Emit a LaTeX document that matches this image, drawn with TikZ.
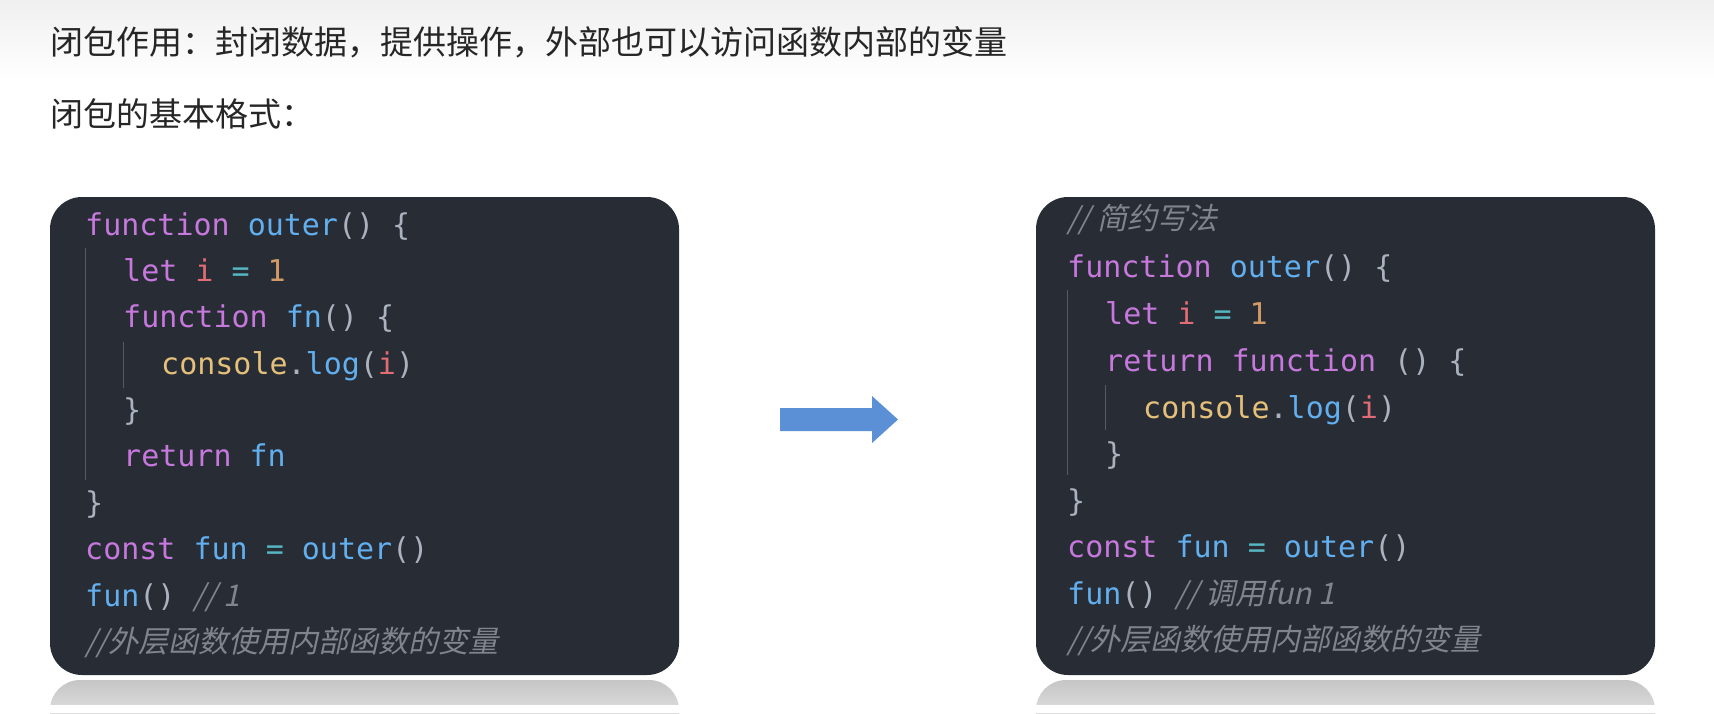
\documentclass[tikz,border=0pt]{standalone}
\usepackage{fontspec}
\setmainfont{Noto Sans CJK SC}
\newfontfamily\cjk{Noto Sans CJK SC}
\newfontfamily\cjkit{Noto Sans CJK SC}[FakeSlant=0.22]
\newfontfamily\code{DejaVu Sans Mono}
\definecolor{bgc}{HTML}{282C34}
\definecolor{kw}{HTML}{C678DD}
\definecolor{fnc}{HTML}{61AFEF}
\definecolor{var}{HTML}{E06C75}
\definecolor{num}{HTML}{D19A66}
\definecolor{obj}{HTML}{E5C07B}
\definecolor{op}{HTML}{56B6C2}
\definecolor{pl}{HTML}{ABB2BF}
\definecolor{cm}{HTML}{7F848E}
\definecolor{arr}{HTML}{5B8FD6}
\newcommand\Kw[1]{\textcolor{kw}{#1}}
\newcommand\Fn[1]{\textcolor{fnc}{#1}}
\newcommand\Va[1]{\textcolor{var}{#1}}
\newcommand\Nu[1]{\textcolor{num}{#1}}
\newcommand\Ob[1]{\textcolor{obj}{#1}}
\newcommand\Op[1]{\textcolor{op}{#1}}
\newcommand\Cm[1]{\textcolor{cm}{\cjkit #1}}
\begin{document}
\begin{tikzpicture}[x=1pt,y=-1pt,
  codeline/.style={anchor=base west,inner sep=0pt,font=\code\fontsize{30}{30}\selectfont,text=pl},
  head/.style={anchor=base west,inner sep=0pt,font=\cjk\fontsize{33}{33}\selectfont,text=black!85},
  codebox/.style={fill=bgc,rounded corners=32pt},
  guide/.style={draw=gray!55!bgc,line width=1pt}]
\useasboundingbox (0,0) rectangle (1714,713);
\shade[top color=gray!12,bottom color=white] (0,0) rectangle (1714,80);
\node[head] (t1) at (50,54) {闭包作用：封闭数据，提供操作，外部也可以访问函数内部的变量};
\node[head] (t2) at (50,126) {闭包的基本格式：};
% reflections
\shade[top color=gray!45,bottom color=white,rounded corners=30pt] (50,680) rectangle (679,760);
\shade[top color=gray!45,bottom color=white,rounded corners=30pt] (1036,680) rectangle (1655,760);
\fill[white] (0,705) rectangle (1714,713);
% boxes
\fill[codebox] (50,197) rectangle (679,675);
\fill[codebox] (1036,197) rectangle (1655,675);
% left code
\draw[guide] (85,248) -- (85,480);
\draw[guide] (123,342) -- (123,388);
\node[codeline] (l1) at (85,235) {\Kw{function} \Fn{outer}() \{};
\node[codeline] (l2) at (123,281) {\Kw{let} \Va{i} \Op{=} \Nu{1}};
\node[codeline] (l3) at (123,327) {\Kw{function} \Fn{fn}() \{};
\node[codeline] (l4) at (161,374) {\Ob{console}.\Fn{log}(\Va{i})};
\node[codeline] (l5) at (123,420) {\}};
\node[codeline] (l6) at (123,466) {\Kw{return} \Fn{fn}};
\node[codeline] (l7) at (85,513) {\}};
\node[codeline] (l8) at (85,559) {\Kw{const} \Fn{fun} \Op{=} \Fn{outer}()};
\node[codeline] (l9) at (85,606) {\Fn{fun}()  \Cm{//  1}};
\node[codeline] (l10) at (85,652) {\Cm{//外层函数使用内部函数的变量}};
% right code
\draw[guide] (1067,290) -- (1067,475);
\draw[guide] (1105,385) -- (1105,430);
\node[codeline] (r0) at (1067,229) {\Cm{// 简约写法}};
\node[codeline] (r1) at (1067,277) {\Kw{function} \Fn{outer}() \{};
\node[codeline] (r2) at (1105,324) {\Kw{let} \Va{i} \Op{=} \Nu{1}};
\node[codeline] (r3) at (1105,371) {\Kw{return} \Kw{function} () \{};
\node[codeline] (r4) at (1143,418) {\Ob{console}.\Fn{log}(\Va{i})};
\node[codeline] (r5) at (1105,464) {\}};
\node[codeline] (r6) at (1067,511) {\}};
\node[codeline] (r7) at (1067,557) {\Kw{const} \Fn{fun} \Op{=} \Fn{outer}()};
\node[codeline] (r8) at (1067,604) {\Fn{fun}() \Cm{// 调用fun  1}};
\node[codeline] (r9) at (1067,650) {\Cm{//外层函数使用内部函数的变量}};
% arrow
\fill[arr] (780,408) -- (872,408) -- (872,396) -- (898,419.5) -- (872,443) -- (872,431) -- (780,431) -- cycle;
\end{tikzpicture}
\end{document}
